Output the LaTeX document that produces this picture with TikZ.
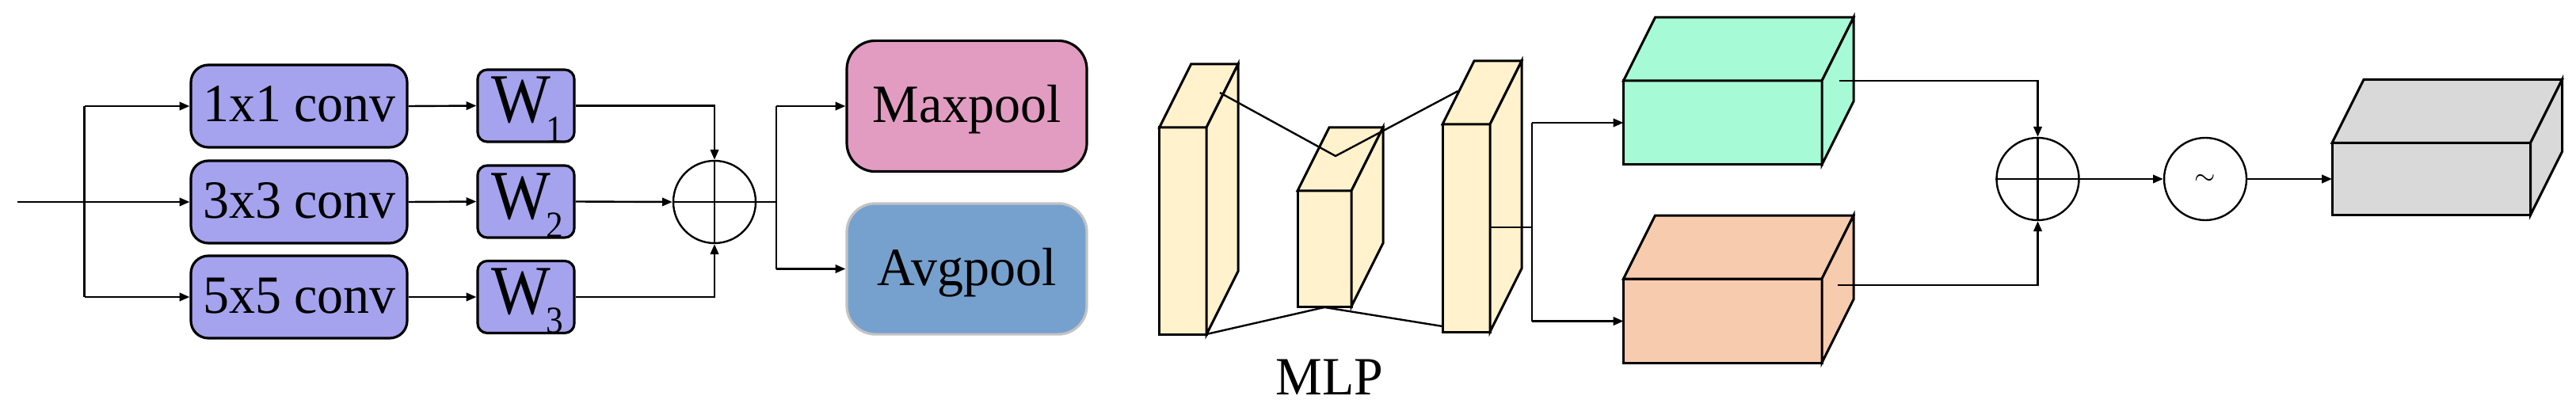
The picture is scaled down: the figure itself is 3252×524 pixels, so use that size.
\documentclass[tikz,border=0pt]{standalone}
\usepackage{fontspec}
\setmainfont{Liberation Serif}
\newfontfamily\labfont[FakeStretch=0.97]{Liberation Serif}
\newfontfamily\wfont[FakeStretch=0.9]{Liberation Serif}
\usetikzlibrary{arrows.meta}
\definecolor{convc}{RGB}{165,162,238}
\definecolor{maxc}{RGB}{226,156,193}
\definecolor{avgc}{RGB}{118,161,206}
\definecolor{avgb}{RGB}{195,195,195}
\definecolor{slabc}{RGB}{255,242,204}
\definecolor{greenc}{RGB}{166,251,214}
\definecolor{orangec}{RGB}{247,203,174}
\definecolor{grayc}{RGB}{217,217,217}
\newcommand{\solidbox}[5]{%
  \filldraw[fill=#5,boxline] (#1,#2) rectangle ++(#3,#4);
  \filldraw[fill=#5,boxline] (#1,#2) -- ++(40,-80) -- ++(#3,0) -- ++(-40,80) -- cycle;
  \filldraw[fill=#5,boxline] (#1,#2) ++(#3,0) -- ++(40,-80) -- ++(0,#4) -- ++(-40,80) -- cycle;
}
\tikzset{
  boxline/.style={line width=0.75pt,draw=black},
  conn/.style={line width=0.6pt},
  arr/.style={conn,-{Triangle[length=3.2pt,width=2.6pt]}},
  convbox/.style={draw=black,line width=0.8pt,fill=convc,rounded corners=5.5pt,minimum width=68.25pt,minimum height=26pt,inner sep=0pt},
  wbox/.style={draw=black,line width=0.8pt,fill=convc,rounded corners=3pt,minimum width=30.5pt,minimum height=22.75pt,inner sep=0pt},
  poolbox/.style={line width=0.8pt,rounded corners=9pt,minimum width=75.75pt,minimum height=41.3pt,inner sep=0pt},
  opcirc/.style={circle,draw=black,line width=0.6pt,minimum size=26pt,inner sep=0pt},
  lab/.style={anchor=base,inner sep=0pt,font=\labfont\fontsize{17}{17}\selectfont},
}
\begin{document}
\begin{tikzpicture}[x=0.25pt,y=-0.25pt]
\useasboundingbox (0,0) rectangle (3252,524);
% multi-scale convs
\node[convbox] (conv1) at (377.5,134) {};
\node[convbox] (conv2) at (377.5,255) {};
\node[convbox] (conv3) at (377.5,375) {};
\node[lab] (t1) at (378,154) {1x1 conv};
\node[lab] (t2) at (378,275) {3x3 conv};
\node[lab] (t3) at (378,395) {5x5 conv};
\node[wbox] (w1) at (664,133.5) {};
\node[wbox] (w2) at (664,254.5) {};
\node[wbox] (w3) at (664,375) {};
\foreach \i/\yy in {1/155,2/276,3/396.5}{
  \node[anchor=base,inner sep=0pt] (wt\i) at (666,\yy)
    {\wfont\fontsize{22}{22}\selectfont W\kern-1.4pt\raisebox{-6pt}{\fontsize{12}{12}\selectfont \i}};
}
\coordinate (in) at (22,255);
\coordinate (split) at (106.5,255);
\draw[arr] (in) -- (conv2.west);
\draw[conn] (split |- conv1) -- (split |- conv3);
\draw[arr] (split |- conv1) -- (conv1.west);
\draw[arr] (split |- conv3) -- (conv3.west);
\draw[arr] (conv1.east) -- (w1.west);
\draw[arr] (conv2.east) -- (w2.west);
\draw[arr] (conv3.east) -- (w3.west);
\node[opcirc] (plus1) at (902,255) {};
\draw[conn] (plus1.west) -- (plus1.east);
\draw[conn] (plus1.north) -- (plus1.south);
\draw[arr] (w1.east) -| (plus1.north);
\draw[arr] (w2.east) -- (plus1.west);
\draw[arr] (w3.east) -| (plus1.south);
% pools
\node[poolbox,draw=black,fill=maxc] (maxp) at (1220.5,134) {};
\node[poolbox,draw=avgb,fill=avgc] (avgp) at (1220.5,339.5) {};
\node[lab] (maxt) at (1220.5,154.4) {Maxpool};
\node[lab] (avgt) at (1220.5,360) {Avgpool};
\coordinate (j1) at (980,255);
\draw[conn] (plus1.east) -- (j1);
\draw[conn] (j1 |- maxp) -- (j1 |- avgp);
\draw[arr] (j1 |- maxp) -- (maxp.west);
\draw[arr] (j1 |- avgp) -- (avgp.west);
% MLP slabs
\solidbox{1463.6}{161}{59.4}{261.5}{slabc}
\solidbox{1638}{241}{68}{146}{slabc}
\solidbox{1821}{157}{60}{262}{slabc}
\coordinate (s1t) at (1540,117);
\coordinate (s2t) at (1686,197);
\coordinate (s3t) at (1840.5,115);
\coordinate (s1b) at (1523,422);
\coordinate (s2b) at (1672,388);
\coordinate (s3b) at (1821,412);
\draw[conn] (s1t) -- (s2t) -- (s3t);
\draw[conn] (s1b) -- (s2b) -- (s3b);
\node[lab] (mlp) at (1678.6,498) {MLP};
% feature cubes
\solidbox{2049.5}{102}{250.5}{106}{greenc}
\solidbox{2049.5}{352}{250.5}{106}{orangec}
\solidbox{2944}{180.5}{250.5}{91}{grayc}
\coordinate (s3o) at (1881,287);
\coordinate (j2) at (1933.7,287);
\coordinate (gin) at (2049.5,155);
\coordinate (oin) at (2049.5,405.5);
\coordinate (gout) at (2322,102);
\coordinate (oout) at (2320,360);
\coordinate (grin) at (2944,226);
\draw[conn] (s3o) -- (j2);
\draw[conn] (j2 |- gin) -- (j2 |- oin);
\draw[arr] (j2 |- gin) -- (gin);
\draw[arr] (j2 |- oin) -- (oin);
\node[opcirc] (plus2) at (2572.5,226) {};
\draw[conn] (plus2.west) -- (plus2.east);
\draw[conn] (plus2.north) -- (plus2.south);
\draw[arr] (gout) -| (plus2.north);
\draw[arr] (oout) -| (plus2.south);
\node[opcirc] (sig) at (2784,226) {};
\node[inner sep=0pt] (sigt) at (2784,226) {\fontsize{8}{8}\selectfont$\sim$};
\draw[arr] (plus2.east) -- (sig.west);
\draw[arr] (sig.east) -- (grin);
\end{tikzpicture}
\end{document}
